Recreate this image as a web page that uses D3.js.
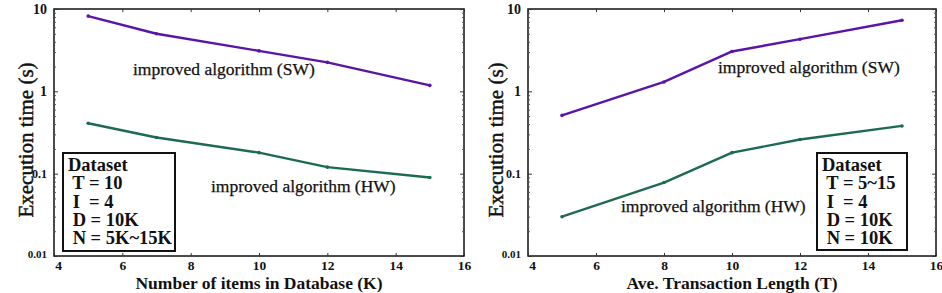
<!DOCTYPE html>
<html><head><meta charset="utf-8">
<script src="https://cdn.jsdelivr.net/npm/d3@7"></script>
<style>
html,body{margin:0;padding:0;background:#fff;}
svg{display:block;font-family:"Liberation Serif","Times New Roman",serif;}
</style></head>
<body>
<svg id="c" width="942" height="293"></svg>
<script>
// ---- data ----
const xTicks = [4, 6, 8, 10, 12, 14, 16];
const yTicks = [0.01, 0.1, 1, 10];
const yTickLabels = ["0.01", "0.1", "1", "10"];

const leftX = [5, 7, 10, 12, 15];
const leftSW = [8.2, 5.0, 3.1, 2.25, 1.18];
const leftHW = [0.41, 0.275, 0.18, 0.12, 0.09];

const rightX = [5, 8, 10, 12, 15];
const rightSW = [0.51, 1.3, 3.05, 4.3, 7.3];
const rightHW = [0.03, 0.078, 0.18, 0.26, 0.38];

const leftXTitle = "Number of items in Database (K)";
const rightXTitle = "Ave. Transaction Length (T)";
const yTitle = "Execution time (s)";
const swLabel = "improved algorithm (SW)";
const hwLabel = "improved algorithm (HW)";
const leftLegend = ["Dataset", " T = 10", " I  = 4", " D = 10K", " N = 5K~15K"];
const rightLegend = ["Dataset", " T = 5~15", " I  = 4", " D = 10K", " N = 10K"];

const swColor = "#5a14a6";
const hwColor = "#1d6b4e";

const svg = d3.select("#c");
const FF = "Liberation Serif";

function panel(opt) {
  const x = d3.scaleLinear().domain([4, 16]).range([opt.x0, opt.x1]);
  const y = d3.scaleLog().domain([0.01, 10]).range([256, 9]);
  const g = svg.append("g");

  const minor = [];
  [0.01, 0.1, 1].forEach(d => { for (let k = 2; k <= 9; k++) minor.push(d * k); });

  g.append("rect").attr("x", x(4)).attr("y", y(10))
    .attr("width", x(16) - x(4)).attr("height", y(0.01) - y(10))
    .attr("fill", "none").attr("stroke", "#111").attr("stroke-width", 1.5);

  const xb = g.append("g").attr("transform", `translate(0,${y(0.01)})`)
    .call(d3.axisBottom(x).tickValues(xTicks).tickSizeInner(-3).tickSizeOuter(0).tickPadding(4));
  xb.select(".domain").remove();
  xb.selectAll("text").attr("font-size", 13.5).attr("font-weight", "bold")
    .attr("font-family", FF).attr("fill", "#111")
    .attr("dx", d => d === 4 ? 4 : 0);
  xb.selectAll("line").attr("stroke", "#333");
  const xt = g.append("g").attr("transform", `translate(0,${y(10)})`)
    .call(d3.axisTop(x).tickValues(xTicks).tickSizeInner(-3).tickSizeOuter(0).tickFormat(""));
  xt.select(".domain").remove();
  xt.selectAll("line").attr("stroke", "#333");

  const yl = g.append("g").attr("transform", `translate(${x(4)},0)`)
    .call(d3.axisLeft(y).tickValues(yTicks).tickSizeInner(-4).tickSizeOuter(0).tickPadding(7)
      .tickFormat((d, i) => yTickLabels[i]));
  yl.select(".domain").remove();
  yl.selectAll("text").attr("font-size", d => d === 0.01 ? 11 : (d === 0.1 ? 12 : 14)).attr("font-weight", "bold")
    .attr("font-family", FF).attr("fill", "#111")
    .attr("dy", d => d === 0.01 ? "0.1em" : "0.32em");
  yl.selectAll("line").attr("stroke", "#333");
  const ylm = g.append("g").attr("transform", `translate(${x(4)},0)`)
    .call(d3.axisLeft(y).tickValues(minor).tickSizeInner(-2).tickSizeOuter(0).tickFormat(""));
  ylm.select(".domain").remove();
  ylm.selectAll("line").attr("stroke", "#555");

  const yr = g.append("g").attr("transform", `translate(${x(16)},0)`)
    .call(d3.axisRight(y).tickValues(yTicks).tickSizeInner(-4).tickSizeOuter(0).tickFormat(""));
  yr.select(".domain").remove();
  yr.selectAll("line").attr("stroke", "#333");
  const yrm = g.append("g").attr("transform", `translate(${x(16)},0)`)
    .call(d3.axisRight(y).tickValues(minor).tickSizeInner(-2).tickSizeOuter(0).tickFormat(""));
  yrm.select(".domain").remove();
  yrm.selectAll("line").attr("stroke", "#555");

  const line = d3.line().x(d => x(d[0])).y(d => y(d[1]));
  [[opt.sw, swColor], [opt.hw, hwColor]].forEach(([vals, col]) => {
    const pts = opt.xs.map((v, i) => [v, vals[i]]);
    g.append("path").datum(pts).attr("d", line).attr("fill", "none")
      .attr("stroke", col).attr("stroke-width", 2.4).attr("stroke-linejoin", "round");
    g.selectAll(null).data(pts).enter().append("circle")
      .attr("cx", d => x(d[0])).attr("cy", d => y(d[1])).attr("r", 1.8)
      .attr("fill", col);
  });

  g.append("text").attr("x", opt.swPos[0]).attr("y", opt.swPos[1])
    .attr("font-size", 17.5).attr("fill", "#111").attr("stroke", "#111").attr("stroke-width", 0.25)
    .text(swLabel);
  g.append("text").attr("x", opt.hwPos[0]).attr("y", opt.hwPos[1])
    .attr("font-size", 17.5).attr("fill", "#111").attr("stroke", "#111").attr("stroke-width", 0.25)
    .text(hwLabel);

  g.append("text").attr("x", (x(4) + x(16)) / 2).attr("y", 289)
    .attr("text-anchor", "middle").attr("font-size", 17.5).attr("font-weight", "bold")
    .attr("fill", "#111").text(opt.xTitle);

  g.append("text").attr("transform", `translate(${opt.yTitleX},140) rotate(-90)`)
    .attr("text-anchor", "middle").attr("font-size", 21).attr("fill", "#111")
    .attr("stroke", "#111").attr("stroke-width", 0.45)
    .text(yTitle);

  const lb = opt.legendBox;
  g.append("rect").attr("x", lb[0]).attr("y", lb[1]).attr("width", lb[2]).attr("height", lb[3])
    .attr("fill", "#fff").attr("stroke", "#111").attr("stroke-width", 2);
  const lt = g.append("text").attr("font-size", 18.5).attr("font-weight", "bold").attr("fill", "#111");
  opt.legend.forEach((s, i) => {
    lt.append("tspan").attr("x", lb[0] + 5).attr("y", lb[1] + 18 + i * 18.3)
      .style("white-space", "pre").text(s);
  });
}

panel({
  x0: 54, x1: 464, xs: leftX, sw: leftSW, hw: leftHW,
  swPos: [133, 75], hwPos: [211, 192], xTitle: leftXTitle, yTitleX: 33,
  legendBox: [63, 153, 112, 98], legend: leftLegend
});
panel({
  x0: 528, x1: 936, xs: rightX, sw: rightSW, hw: rightHW,
  swPos: [718, 73], hwPos: [621, 212], xTitle: rightXTitle, yTitleX: 503,
  legendBox: [817, 153, 90, 97], legend: rightLegend
});
</script>
</body></html>
